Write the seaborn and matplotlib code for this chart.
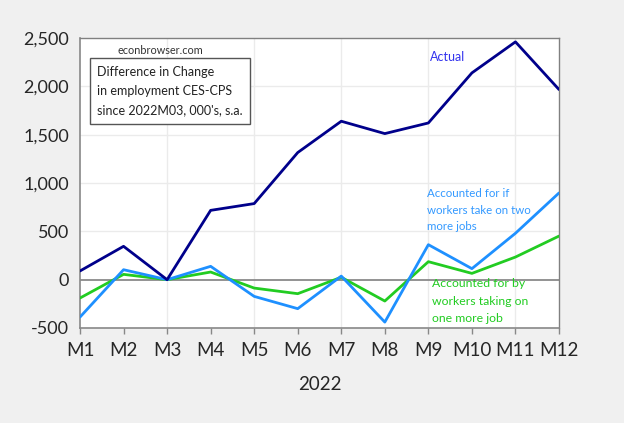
import matplotlib
matplotlib.use("Agg")
import matplotlib.pyplot as plt
import seaborn as sns
import pandas as pd

months = ["M1", "M2", "M3", "M4", "M5", "M6", "M7", "M8", "M9", "M10", "M11", "M12"]
actual = [90, 345, 0, 717, 787, 1315, 1639, 1511, 1621, 2139, 2460, 1967]
two_jobs = [-387, 103, 0, 138, -173, -300, 37, -439, 362, 114, 480, 897]
one_job = [-190, 55, 0, 79, -87, -145, 25, -221, 186, 65, 234, 451]

sns.set_style("white")
plt.rcParams['font.family'] = ['Lato', 'DejaVu Sans']

fig = plt.figure(figsize=(6.24, 4.23), dpi=100, facecolor="#f0f0f0")
ax = fig.add_axes([80/624, 1-328/423, (559-80)/624, (328-38)/423])
ax.set_facecolor("white")

x = list(range(len(months)))
df = pd.DataFrame({"x": x, "actual": actual, "two": two_jobs, "one": one_job})

ax.axhline(0, color="#8a8a8a", lw=1.3, zorder=1)
sns.lineplot(data=df, x="x", y="one", ax=ax, color="#22cc22", lw=2.0, zorder=3)
sns.lineplot(data=df, x="x", y="two", ax=ax, color="#1e90ff", lw=2.0, zorder=4)
sns.lineplot(data=df, x="x", y="actual", ax=ax, color="#00008b", lw=2.0, zorder=5)

ax.set_xlim(0, 11)
ax.set_ylim(-500, 2500)
ax.set_xticks(x)
ax.set_xticklabels(months)
ax.set_yticks([-500, 0, 500, 1000, 1500, 2000, 2500])
ax.set_yticklabels(["-500", "0", "500", "1,000", "1,500", "2,000", "2,500"])
ax.tick_params(axis="x", length=4, width=1, color="#888888", labelsize=13.5, pad=6, direction="out", bottom=True)
ax.tick_params(axis="y", length=0, labelsize=13, pad=8, left=False)
ax.set_xlabel("2022", fontsize=13.5, labelpad=12)
ax.set_ylabel("")

for xv in [2, 4, 6, 8, 10]:
    ax.axvline(xv, color="#ebebeb", lw=1, zorder=0)
for yv in [500, 1000, 1500, 2000]:
    ax.axhline(yv, color="#ebebeb", lw=1, zorder=0)

for s in ["left", "bottom"]:
    ax.spines[s].set_color("#888888")
    ax.spines[s].set_linewidth(1.2)
for s in ["top", "right"]:
    ax.spines[s].set_color("#808080")
    ax.spines[s].set_linewidth(1.0)

fig.text(160/624, 1-51/423, "econbrowser.com", fontsize=7.8, color="#333333", ha="center", va="center")
fig.text(97/624, 1-91/423, "Difference in Change\nin employment CES-CPS\nsince 2022M03, 000's, s.a.",
         fontsize=9, color="#222222", ha="left", va="center", linespacing=1.75,
         bbox=dict(boxstyle="square,pad=0.6", fc="white", ec="#555555", lw=1))

fig.text(430/624, 1-57/423, "Actual", fontsize=9, color="#3333ee", ha="left", va="center")
fig.text(427/624, 1-210/423, "Accounted for if\nworkers take on two\nmore jobs", fontsize=8.3,
         color="#3399ff", ha="left", va="center", linespacing=1.65)
fig.text(432/624, 1-301/423, "Accounted for by\nworkers taking on\none more job", fontsize=8.8,
         color="#22cc22", ha="left", va="center", linespacing=1.7)

fig.savefig("out.png", dpi=100, facecolor=fig.get_facecolor())
